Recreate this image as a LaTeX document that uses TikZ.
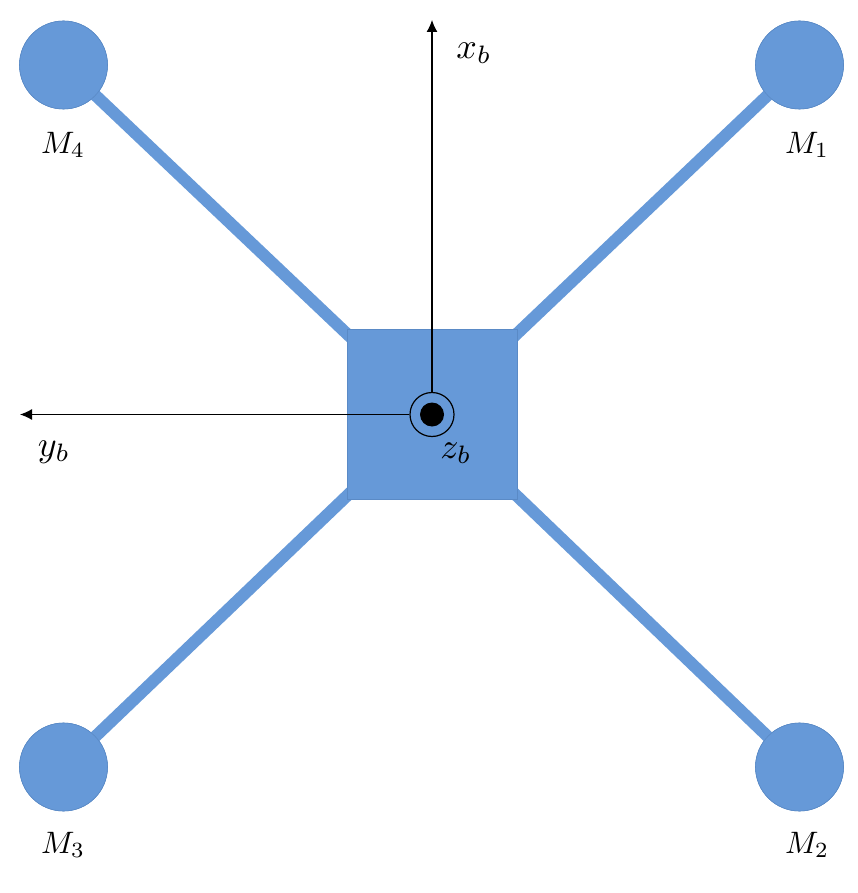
\documentclass[tikz,border=0pt]{standalone}
\usetikzlibrary{arrows.meta}
\definecolor{qb}{HTML}{6699D8}
\definecolor{qe}{HTML}{5A8AC6}
\tikzset{x=1pt,y=-1pt,
 rotor/.style={circle,fill=qb,draw=qe,line width=0.6pt,minimum size=88pt,inner sep=0pt},
 arm/.style={draw=qb,line width=12pt},
 body/.style={fill=qb,draw=qe,line width=0.6pt,minimum size=170pt,inner sep=0pt},
 axis/.style={draw=black,line width=1.2pt,-{Latex[length=12pt,width=11pt]}},
 lab/.style={inner sep=0pt,scale=3.1},
 axlab/.style={inner sep=0pt,scale=3.6}}
\begin{document}
\begin{tikzpicture}
\useasboundingbox (0,0) rectangle (858,893);
\fill[white] (0,0) rectangle (858,893);
\coordinate (c) at (432,414.5);
\node[rotor] (m1) at (799.5,65) {};
\node[rotor] (m2) at (799.5,767) {};
\node[rotor] (m3) at (63.5,767) {};
\node[rotor] (m4) at (63.5,65) {};
\draw[arm] (c) -- (m1.center);
\draw[arm] (c) -- (m2.center);
\draw[arm] (c) -- (m3.center);
\draw[arm] (c) -- (m4.center);
\node[rotor] at (m1) {};
\node[rotor] at (m2) {};
\node[rotor] at (m3) {};
\node[rotor] at (m4) {};
\node[body] (b) at (c) {};
\node[circle,draw=black,line width=1.2pt,minimum size=44pt,inner sep=0pt] (z) at (c) {};
\node[circle,fill=black,minimum size=24pt,inner sep=0pt] (d) at (c) {};
\coordinate (xe) at (432,20);
\coordinate (ye) at (20,414.5);
\draw[axis] (z.north) -- (xe);
\draw[axis] (z.west) -- (ye);
\node[axlab] (lx) at (474,53) {$x_b$};
\node[axlab] (ly) at (54,452) {$y_b$};
\node[axlab] (lz) at (456,453) {$z_b$};
\node[lab] (l1) at (807,145) {$M_1$};
\node[lab] (l2) at (807,845) {$M_2$};
\node[lab] (l3) at (63,845) {$M_3$};
\node[lab] (l4) at (63,145) {$M_4$};
\end{tikzpicture}
\end{document}
